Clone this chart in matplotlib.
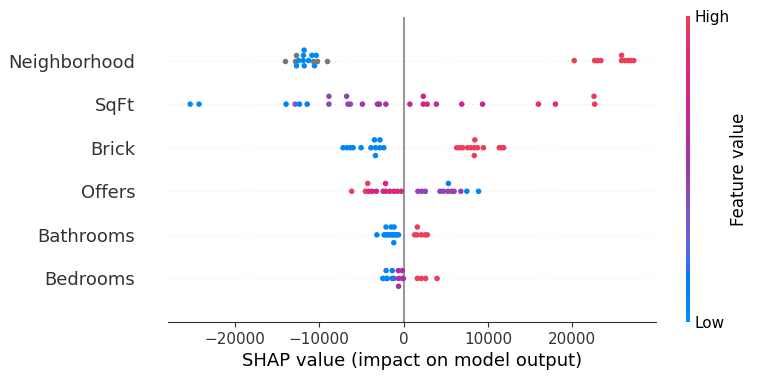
import numpy as np
import matplotlib
matplotlib.use("Agg")
import matplotlib.pyplot as plt
from matplotlib.colors import LinearSegmentedColormap, Normalize
from matplotlib.cm import ScalarMappable

nan = np.nan

# ---------------- data ----------------
features = ["Bedrooms", "Bathrooms", "Offers", "Brick", "SqFt", "Neighborhood"]

neighborhood_shap = [-14010, -12900, -12700, -12700, -12460, -11900, -11870, -11780, -11790,
                     -11270, -10680, -10870, -10560, -10320, -10360, -9130,
                     20230, 22650, 23000, 23400, 25850, 25850, 26250, 26650, 26950, 27300]
neighborhood_val = [nan, nan, nan, 0.03, 0.03, 0.03, 0.03, 0.03, 0.03,
                    0.03, nan, 0.03, 0.03, nan, 0.03, nan,
                    1.0, 1.0, 1.0, 1.0, 1.0, 1.0, 1.0, 1.0, 1.0, 1.0]

sqft_shap = [-25300, -24250, -13930, -12860, -12340, -11430, -8850, -8850, -6590, -6750,
             -6310, -4880, -3100, -2860, -2100, 750, 2340, 2340, 2800, 3890,
             6900, 9360, 15990, 18010, 22660, 22580]
sqft_val = [0.0, 0.0, 0.08, 0.35, 0.1, 0.1, 0.42, 0.42, 0.45, 0.45,
            0.45, 0.5, 0.52, 0.53, 0.55, 0.65, 0.75, 0.7, 0.75, 0.7,
            0.75, 0.68, 0.87, 0.86, 0.96, 0.96]

brick_shap = [-7180, -6720, -6310, -5990, -5040, -3870, -3330, -3450, -3330, -2820,
              -2800, -2340, 6300, 6650, 7000, 7580, 7980, 8400, 8450, 8380,
              8770, 9470, 11350, 11600, 11870]
brick_val = [0.05, 0.05, 0.05, 0.05, 0.05, 0.05, 0.05, 0.05, 0.05, 0.05,
             0.05, 0.05, 1.0, 1.0, 1.0, 1.0, 1.0, 1.0, 1.0, 1.0,
             1.0, 1.0, 1.0, 1.0, 1.0]

offers_shap = [-6150, -4520, -4130, -4250, -3730, -3230, -2420, -2100, -2140, -1630,
               -1150, -750, -270, 1700, 2140, 2580, 4320, 4720, 5250, 5320,
               5700, 6000, 6790, 7500, 8890]
offers_val = [1.0, 1.0, 0.85, 1.0, 0.8, 0.68, 0.8, 0.8, 0.78, 0.8,
              0.8, 0.8, 0.75, 0.45, 0.45, 0.45, 0.45, 0.45, 0.45, 0.08,
              0.45, 0.45, 0.45, 0.06, 0.05]

bathrooms_shap = [-3170, -2300, -2100, -2080, -1900, -1750, -1480, -1470, -1300, -1140,
                  -1120, -1160, -950, -800, -600, 1310, 1600, 1630, 2100, 2540, 2820]
bathrooms_val = [0.05, 0.05, 0.05, 0.05, 0.05, 0.05, 0.05, 0.05, 0.05, 0.05,
                 0.05, 0.05, 0.05, 0.05, 0.05, 1.0, 1.0, 1.0, 1.0, 1.0, 1.0]

bedrooms_shap = [-2460, -2060, -2070, -1940, -1150, -600, -620, -590, -160, -150,
                 -30, -1350, -1340, 1630, 2100, 2620, 3970]
bedrooms_val = [0.05, 0.05, 0.05, 0.05, 0.55, 0.55, 0.55, 0.55, 0.55, 0.55,
                0.55, 0.08, 0.08, 1.0, 1.0, 1.0, 1.0]

shap_values = [bedrooms_shap, bathrooms_shap, offers_shap, brick_shap, sqft_shap, neighborhood_shap]
feature_values = [bedrooms_val, bathrooms_val, offers_val, brick_val, sqft_val, neighborhood_val]

# ---------------- red_blue colormap (LCH interpolation) ----------------
def lch2lab(lch):
    return np.array([lch[0], lch[1] * np.cos(lch[2]), lch[1] * np.sin(lch[2])])

def lab2rgb(lab):
    L, a, b = lab
    y = (L + 16.0) / 116.0
    x = a / 500.0 + y
    z = max(y - b / 200.0, 0.0)
    out = np.array([x, y, z])
    mask = out > 0.2068966
    out[mask] = out[mask] ** 3
    out[~mask] = (out[~mask] - 16.0 / 116.0) / 7.787
    xyz = out * np.array([0.95047, 1.0, 1.08883])
    M = np.array([[3.24048134, -1.53715152, -0.49853633],
                  [-0.96925495, 1.87599, 0.04155593],
                  [0.05564664, -0.20404134, 1.05731107]])
    arr = M @ xyz
    arr = np.clip(arr, 0, None)
    m = arr > 0.0031308
    arr[m] = 1.055 * np.power(arr[m], 1 / 2.4) - 0.055
    arr[~m] *= 12.92
    return np.clip(arr, 0, 1)

blue_lch = [55.0, 68.0, 4.6588]
l_mid = 42.0
red_lch = [54.0, 72.0, 0.35470565 + 2 * np.pi]
nsteps = 100
l_vals = list(np.linspace(blue_lch[0], l_mid, nsteps // 2)) + list(np.linspace(l_mid, red_lch[0], nsteps // 2))
c_vals = np.linspace(blue_lch[1], red_lch[1], nsteps)
h_vals = np.linspace(blue_lch[2], red_lch[2], nsteps)
cols = [lab2rgb(lch2lab([l, c, h])) for l, c, h in zip(l_vals, c_vals, h_vals)]
red_blue = LinearSegmentedColormap.from_list("red_blue", cols)

# ---------------- plot ----------------
fig = plt.figure(figsize=(7.62, 3.76), dpi=100)
ax = fig.add_axes([168 / 762, 54 / 376, 488 / 762, 305 / 376])
axis_color = "#333333"
row_height = 0.4

ax.axvline(x=0, color="#999999", zorder=-1)
for pos in range(len(features)):
    ax.axhline(y=pos, color="#cccccc", lw=0.5, dashes=(1, 5), zorder=-1)
    shaps = np.asarray(shap_values[pos], dtype=float)
    vals = np.asarray(feature_values[pos], dtype=float)
    N = len(shaps)
    nbins = 100
    quant = np.round(nbins * (shaps - shaps.min()) / (shaps.max() - shaps.min() + 1e-8))
    inds = np.argsort(quant, kind="stable")
    layer = 0
    last_bin = -1
    ys = np.zeros(N)
    for ind in inds:
        if quant[ind] != last_bin:
            layer = 0
        ys[ind] = np.ceil(layer / 2) * ((layer % 2) * 2 - 1)
        layer += 1
        last_bin = quant[ind]
    ys *= 0.9 * (row_height / np.max(ys + 1))
    nan_mask = np.isnan(vals)
    ax.scatter(shaps[nan_mask], pos + ys[nan_mask], color="#777777", s=16,
               linewidth=0, zorder=3)
    ax.scatter(shaps[~nan_mask], pos + ys[~nan_mask], c=vals[~nan_mask], cmap=red_blue,
               vmin=0, vmax=1, s=16, linewidth=0, zorder=3)

ax.xaxis.set_ticks_position("bottom")
ax.yaxis.set_ticks_position("none")
for s in ["right", "top", "left"]:
    ax.spines[s].set_visible(False)
ax.spines["bottom"].set_color(axis_color)
ax.tick_params(color=axis_color, labelcolor=axis_color)
ax.set_yticks(range(len(features)))
ax.set_yticklabels(features, fontsize=13)
ax.tick_params("y", length=20, width=0.5, which="major")
ax.tick_params("x", labelsize=11)
ax.set_ylim(-1, len(features))
ax.set_xlabel("SHAP value (impact on model output)", fontsize=13)

cax = fig.add_axes([686 / 762, 54 / 376, 4 / 762, 306 / 376])
m = ScalarMappable(cmap=red_blue, norm=Normalize(0, 1))
m.set_array([0, 1])
cb = fig.colorbar(m, cax=cax, ticks=[0, 1])
cb.set_ticklabels(["Low", "High"])
cb.set_label("Feature value", size=12, labelpad=0)
cb.ax.tick_params(labelsize=11, length=0)
cb.outline.set_visible(False)

fig.savefig("out.png", dpi=100)
